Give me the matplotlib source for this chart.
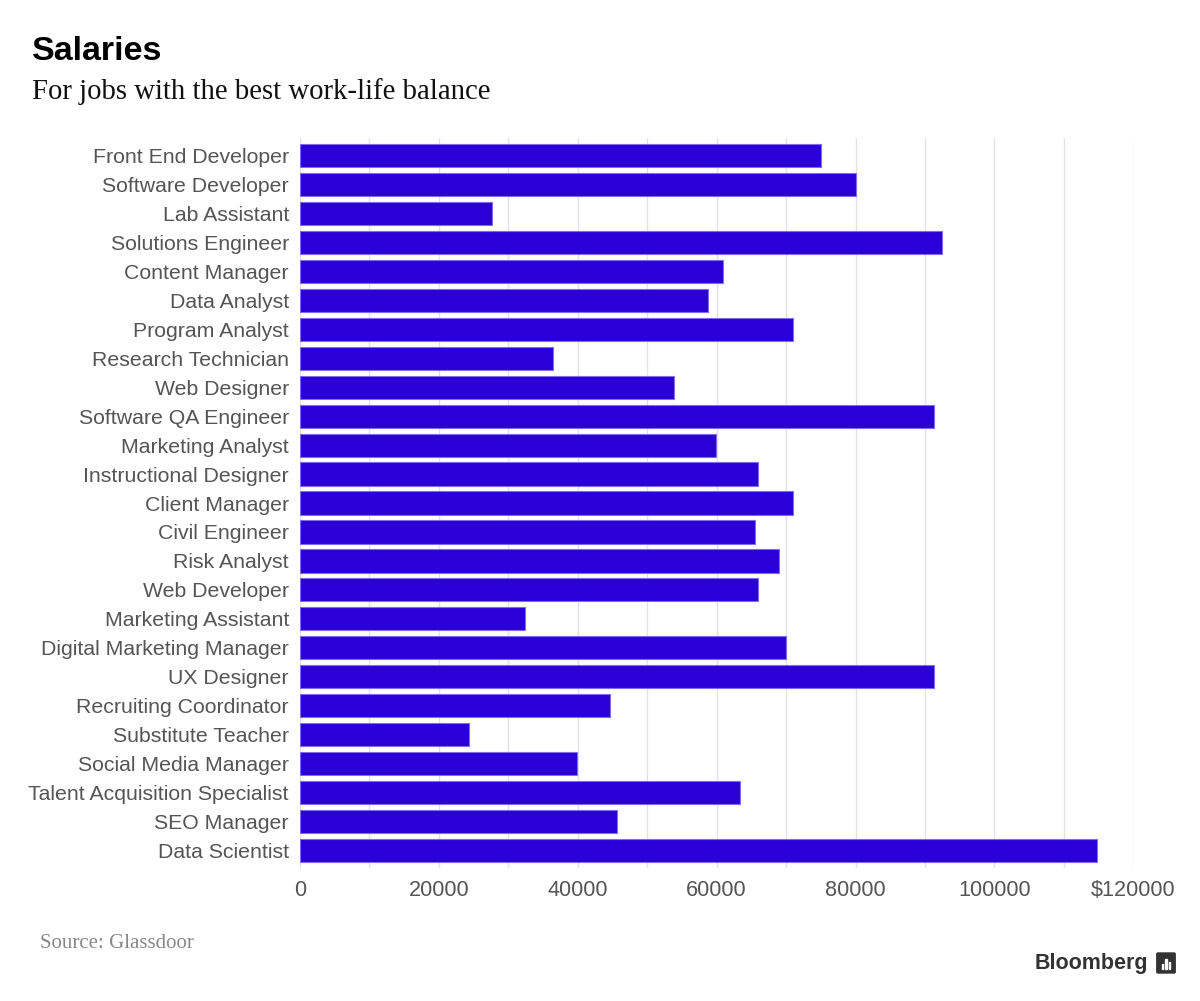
import matplotlib.pyplot as plt
from matplotlib.patches import FancyBboxPatch, Rectangle

# --- Data ---
jobs = [
    "Front End Developer", "Software Developer", "Lab Assistant", "Solutions Engineer",
    "Content Manager", "Data Analyst", "Program Analyst", "Research Technician",
    "Web Designer", "Software QA Engineer", "Marketing Analyst", "Instructional Designer",
    "Client Manager", "Civil Engineer", "Risk Analyst", "Web Developer",
    "Marketing Assistant", "Digital Marketing Manager", "UX Designer",
    "Recruiting Coordinator", "Substitute Teacher", "Social Media Manager",
    "Talent Acquisition Specialist", "SEO Manager", "Data Scientist",
]
salaries = [
    75000, 80000, 27600, 92400,
    60900, 58800, 71000, 36400,
    53800, 91300, 59900, 66000,
    71000, 65500, 69000, 66000,
    32400, 70000, 91300,
    44700, 24300, 39900,
    63400, 45700, 114800,
]
xticks = [0, 20000, 40000, 60000, 80000, 100000, 120000]
xtick_labels = ["0", "20000", "40000", "60000", "80000", "100000", "$120000"]

BAR_COLOR = "#2a00d6"
TEXT_GREY = "#555555"

fig = plt.figure(figsize=(12, 10.01), dpi=100)
ax = fig.add_axes([0.25, 0.133, 0.6944, 0.729])

ypos = list(range(len(jobs)))
ax.barh(ypos, salaries, height=0.8, color=BAR_COLOR, edgecolor="#7d6cf0",
        linewidth=0.8, zorder=3)

ax.set_xlim(0, 120000)
ax.set_ylim(len(jobs) - 0.4, -0.6)
ax.set_yticks(ypos)
ax.set_yticklabels(jobs, fontsize=15.3, color=TEXT_GREY, family="Liberation Sans")
ax.set_xticks(xticks)
ax.set_xticklabels(xtick_labels, fontsize=15.6, color=TEXT_GREY, family="Liberation Sans")
for lbl in ax.get_xticklabels():
    lbl.set_verticalalignment("baseline")
ax.set_xticks(range(10000, 120001, 20000), minor=True)
ax.grid(axis="x", which="both", color="#e3e3e3", linewidth=1, zorder=0)
ax.tick_params(axis="both", which="both", length=0)
ax.tick_params(axis="y", pad=8)
ax.tick_params(axis="x", pad=20)
for s in ax.spines.values():
    s.set_visible(False)

# --- Titles ---
fig.text(32 / 1200, 1 - 52 / 1001, "Salaries", fontsize=24.5, fontweight="bold",
         family="Liberation Sans", va="center", ha="left", color="black")
fig.text(32 / 1200, 1 - 92 / 1001, "For jobs with the best work-life balance",
         fontsize=20.7, family="Liberation Serif", va="center", ha="left", color="#111111")
fig.text(40 / 1200, 1 - 943 / 1001, "Source: Glassdoor", fontsize=15,
         family="Liberation Serif", va="center", ha="left", color="#888888")
fig.text(1148 / 1200, 1 - 963 / 1001, "Bloomberg", fontsize=15.5, fontweight="bold",
         family="Liberation Sans", va="center", ha="right", color="#333333")

# small Bloomberg icon
ix, iy, iw, ih = 1158 / 1200, 1 - 972 / 1001, 16 / 1200, 18 / 1001
fig.patches.append(FancyBboxPatch((ix, iy), iw, ih, boxstyle="round,pad=0.001",
                                  transform=fig.transFigure, color="#333333"))
for k, h in enumerate([0.3, 0.55, 0.4]):
    fig.patches.append(Rectangle((ix + iw * (0.22 + k * 0.22), iy + ih * 0.15),
                                 iw * 0.12, ih * h, transform=fig.transFigure,
                                 color="white"))

fig.savefig("out.png", dpi=100, facecolor="white")
